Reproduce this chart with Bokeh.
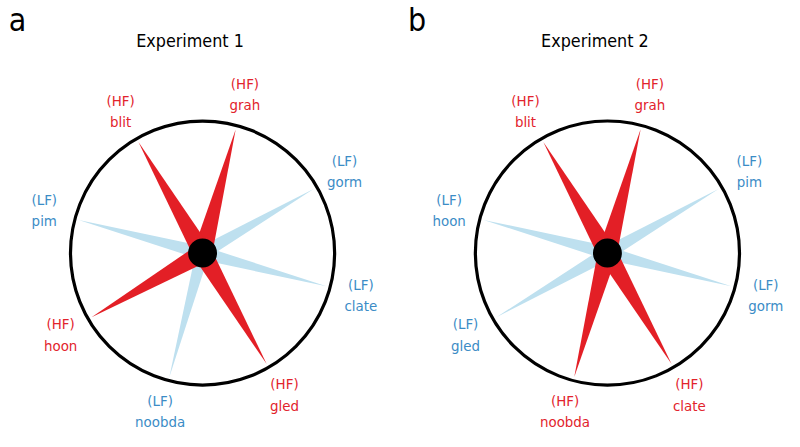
import numpy as np
from bokeh.plotting import figure
from bokeh.models import Range1d, ColumnDataSource
from bokeh.core.properties import value
from bokeh.embed import file_html
from bokeh.resources import INLINE

# ---- data ----
angles_deg = [15, 60, 105, 150, 195, 240, 285, 330]
exp1_words = ["grah", "gorm", "clate", "gled", "noobda", "hoon", "pim", "blit"]
exp1_freq = ["HF", "LF", "LF", "HF", "LF", "HF", "LF", "HF"]
exp2_words = ["grah", "pim", "gorm", "clate", "noobda", "gled", "hoon", "blit"]
exp2_freq = ["HF", "LF", "LF", "HF", "HF", "LF", "LF", "HF"]
titles = ["Experiment 1", "Experiment 2"]
panel_letters = ["a", "b"]

# ---- style ----
FONT = value("DejaVu Sans Condensed, Roboto, sans-serif")
SPIKE_COLOR = {"HF": "#e31f26", "LF": "#bee0ef"}
LABEL_COLOR = {"HF": "#e2232c", "LF": "#3b8cc6"}
SPIKE_W = {"HF": 20.0, "LF": 14.0}

W, H = 784, 431
S = 0.964            # uniform scale so the whole drawing fits the window
X0, Y0 = -6.6, 3.0
p = figure(width=W, height=H, output_backend="svg", toolbar_location=None,
           x_range=Range1d(X0, X0 + W / S), y_range=Range1d(Y0 + H / S, Y0),
           min_border=0, outline_line_color=None)
p.axis.visible = False
p.grid.visible = False

def px(v):
    return "%.1fpx" % (v * S)

CY = 265.0
centers_x = [203.0, 623.0]
R = 137.0
TIP = 133.0
RL = 170.0

panels = [(exp1_words, exp1_freq), (exp2_words, exp2_freq)]
for k, (words, freq) in enumerate(panels):
    cx = centers_x[k]
    th = np.radians(angles_deg)
    dx, dy = np.sin(th), -np.cos(th)       # y grows downward
    qx, qy = np.cos(th), np.sin(th)        # perpendicular
    for cls in ["LF", "HF"]:
        xs, ys = [], []
        for i, f in enumerate(freq):
            if f != cls:
                continue
            hw = SPIKE_W[f] / 2
            xs.append([cx + hw * qx[i], cx + TIP * dx[i], cx - hw * qx[i]])
            ys.append([CY + hw * qy[i], CY + TIP * dy[i], CY - hw * qy[i]])
        p.patches(xs, ys, fill_color=SPIKE_COLOR[cls], line_color=None)
    p.circle([cx], [CY], radius=15, fill_color="black", line_color=None)
    p.circle([cx], [CY], radius=R, fill_color=None, line_color="black", line_width=3.2)

    lx = cx + RL * dx
    ly = CY + RL * dy
    src = ColumnDataSource(dict(
        x=lx, y_top=ly - 11, y_bot=ly + 11,
        tag=["(%s)" % f for f in freq], word=words,
        color=[LABEL_COLOR[f] for f in freq]))
    p.text("x", "y_top", text="tag", source=src, text_color="color",
           text_align="center", text_baseline="middle",
           text_font=FONT, text_font_size=px(15.5))
    p.text("x", "y_bot", text="word", source=src, text_color="color",
           text_align="center", text_baseline="middle",
           text_font=FONT, text_font_size=px(15.5))

    p.text([cx - 13], [45], text=[titles[k]], text_align="center",
           text_baseline="middle", text_font=FONT, text_font_size=px(18.5),
           text_color="black")
    p.text([[2, 416][k]], [Y0 + 1], text=[panel_letters[k]], text_align="left",
           text_baseline="top", text_font=FONT, text_font_size=px(33),
           text_color="black")

open("out.html", "w").write(file_html(p, INLINE))
